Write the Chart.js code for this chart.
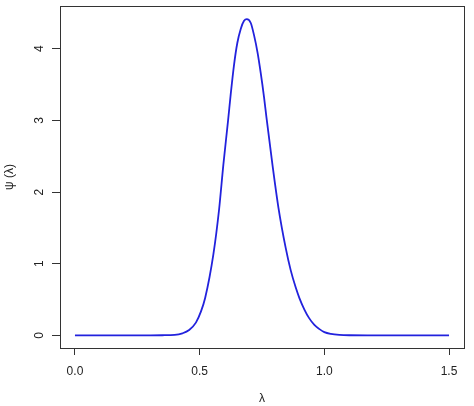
<!DOCTYPE html>
<html>
<head>
<meta charset="utf-8">
<script src="https://cdn.jsdelivr.net/npm/chart.js@4/dist/chart.umd.min.js"></script>
<style>
  html, body { margin: 0; padding: 0; background: #fff; }
  canvas { display: block; }
</style>
</head>
<body>
<canvas id="psi-chart" width="474" height="406"></canvas>
<script>
// values
const lambdaValues = [0, 0.1, 0.2, 0.3, 0.35, 0.4, 0.431, 0.458, 0.485, 0.505, 0.522, 0.555, 0.578,
  0.595, 0.614, 0.625, 0.638, 0.651, 0.665, 0.678, 0.689, 0.705, 0.718, 0.732, 0.745, 0.758, 0.768,
  0.792, 0.816, 0.845, 0.865, 0.885, 0.9, 0.92, 0.939, 0.96, 0.979, 1.0, 1.026, 1.06, 1.1,
  1.2, 1.3, 1.4, 1.5];
const psiValues = [0, 0, 0, 0, 0.001, 0.006, 0.028, 0.074, 0.177, 0.33, 0.52, 1.13, 1.76,
  2.38, 3.0, 3.38, 3.78, 4.08, 4.28, 4.39, 4.415, 4.36, 4.19, 3.95, 3.66, 3.33, 3.04,
  2.38, 1.78, 1.22, 0.91, 0.67, 0.52, 0.36, 0.24, 0.145, 0.09, 0.045, 0.02, 0.006, 0.001,
  0, 0, 0, 0];
const xTicks = [0, 0.5, 1, 1.5];
const yTicks = [0, 1, 2, 3, 4];

const points = lambdaValues.map((x, i) => ({ x: x, y: psiValues[i] }));

const tickFont = { family: 'Liberation Sans', size: 12 };
const axisColor = '#333333';

// R style y labels, turned parallel to the axis
const rotatedYLabels = {
  id: 'rotatedYLabels',
  afterDraw(chart) {
    const ctx = chart.ctx;
    const yScale = chart.scales.y;
    ctx.save();
    ctx.fillStyle = '#222';
    ctx.font = '12px "Liberation Sans"';
    ctx.textAlign = 'center';
    ctx.textBaseline = 'middle';
    yScale.ticks.forEach(t => {
      const py = yScale.getPixelForValue(t.value);
      ctx.save();
      ctx.translate(39.5, py);
      ctx.rotate(-Math.PI / 2);
      ctx.fillText(String(t.value), 0, 0);
      ctx.restore();
    });
    ctx.restore();
  }
};

const psiChart = new Chart(document.getElementById('psi-chart'), {
  type: 'scatter',
  data: {
    datasets: [{
      data: points,
      showLine: true,
      borderColor: '#2222dd',
      borderWidth: 1.8,
      pointRadius: 0,
      cubicInterpolationMode: 'monotone',
      fill: false
    }]
  },
  options: {
    responsive: false,
    animation: false,
    layout: { padding: { top: 6, right: 10, left: 0, bottom: 0 } },
    plugins: {
      legend: { display: false },
      tooltip: { enabled: false }
    },
    scales: {
      x: {
        type: 'linear',
        min: -0.06,
        max: 1.56,
        afterBuildTicks: s => { s.ticks = xTicks.map(v => ({ value: v })); },
        afterFit: s => { s.height = 58; },
        border: { display: true, color: axisColor, width: 1 },
        grid: { drawOnChartArea: false, drawTicks: true, tickLength: 7, tickColor: axisColor },
        ticks: {
          color: '#222',
          font: tickFont,
          padding: 9,
          maxRotation: 0,
          callback: v => v.toFixed(1)
        },
        title: { display: true, text: 'λ', color: '#222', font: tickFont, padding: 0 }
      },
      y: {
        type: 'linear',
        min: -0.177,
        max: 4.597,
        afterBuildTicks: s => { s.ticks = yTicks.map(v => ({ value: v })); },
        afterFit: s => { s.width = 60; },
        border: { display: true, color: axisColor, width: 1 },
        grid: { drawOnChartArea: false, drawTicks: true, tickLength: 8, tickColor: axisColor },
        ticks: { display: false },
        title: { display: true, text: 'ψ (λ)', color: '#222', font: tickFont, padding: { top: 2 } }
      }
    }
  },
  plugins: [rotatedYLabels, {
    // closing the box on the top and right, as R's bty="o"
    id: 'plotBox',
    afterDraw(chart) {
      const a = chart.chartArea;
      const ctx = chart.ctx;
      ctx.save();
      ctx.strokeStyle = axisColor;
      ctx.lineWidth = 1;
      ctx.strokeRect(a.left + 0.5, a.top + 0.5, a.right - a.left, a.bottom - a.top);
      ctx.restore();
    }
  }]
});
</script>
</body>
</html>
